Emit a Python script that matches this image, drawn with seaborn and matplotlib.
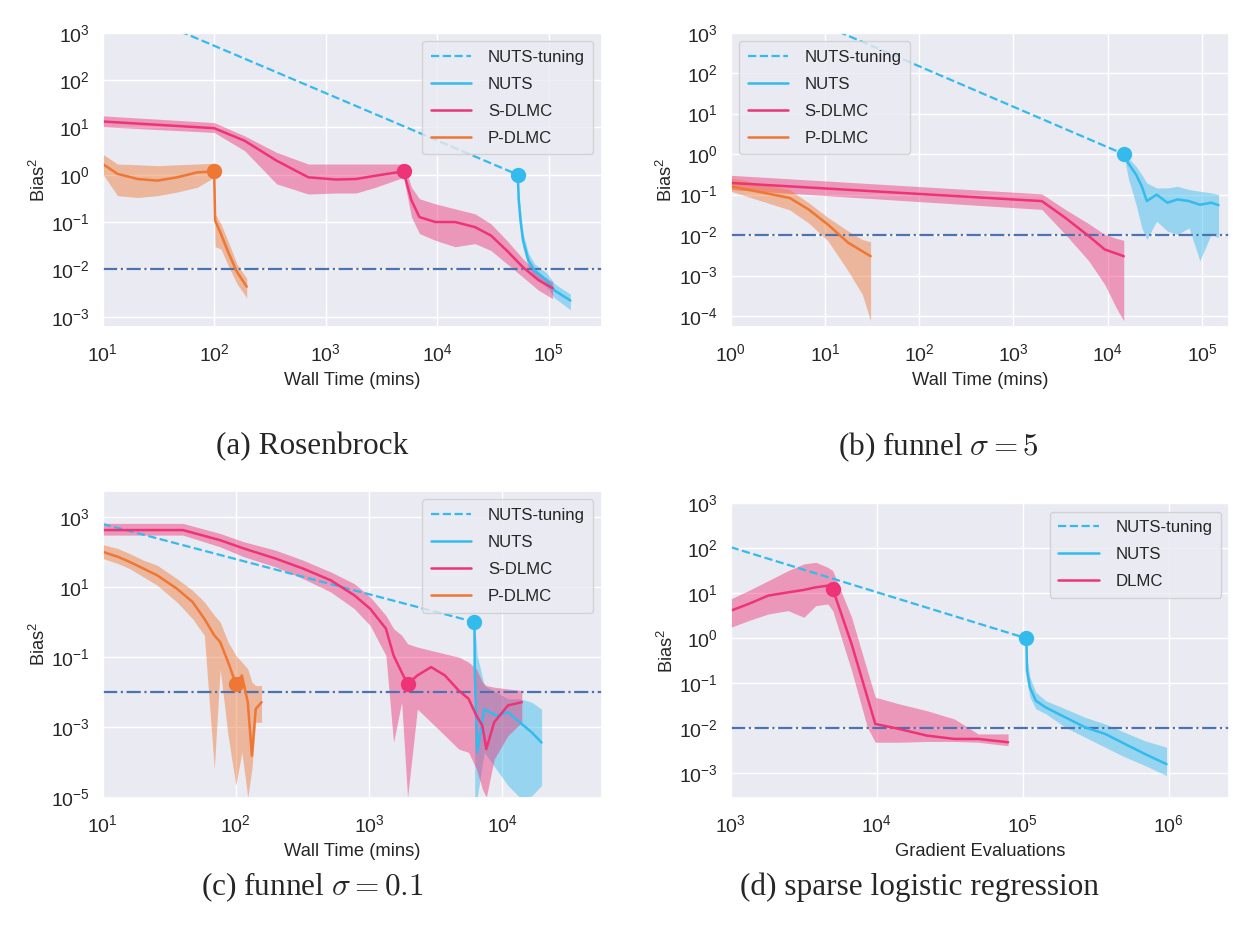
import numpy as np
import pandas as pd
import matplotlib
matplotlib.use("Agg")
import matplotlib.pyplot as plt
import seaborn as sns
from matplotlib.ticker import LogLocator, NullLocator, FixedLocator

# ---------------- colours ----------------
C_NUTS = "#33bbee"
C_SD = "#ee3377"
C_PD = "#ee7733"
C_THR = "#4c72b0"

# ================= (a) Rosenbrock =================
a_tune_x = [10, 5.3e4]
a_tune_y = [5300, 1.0]

a_nuts_x = [5.3e4, 5.4e4, 5.6e4, 5.9e4, 6.6e4, 7.5e4, 9.6e4, 1.13e5, 1.57e5]
a_nuts_m = [1.0, 0.30, 0.11, 0.041, 0.0155, 0.0095, 0.0059, 0.0036, 0.0022]
a_nuts_hi = [1.0, 0.50, 0.18, 0.060, 0.022, 0.013, 0.0085, 0.005, 0.003]
a_nuts_lo = [1.0, 0.18, 0.07, 0.028, 0.011, 0.0068, 0.0042, 0.0025, 0.0014]

a_sd_x = [10, 100, 188, 363, 700, 1240, 1870, 2800, 5000, 5900, 6950, 9660,
          14500, 21900, 30400, 42200, 58700, 81400, 1.09e5]
a_sd_m = [13.3, 9.6, 5.2, 1.98, 0.88, 0.79, 0.81, 0.95, 1.18, 0.284, 0.127, 0.10,
          0.10, 0.078, 0.052, 0.025, 0.0112, 0.0059, 0.0040]
a_sd_hi = [17.5, 12.6, 6.6, 2.96, 1.68, 1.68, 1.68, 1.68, 1.68, 0.54, 0.31, 0.242,
           0.19, 0.149, 0.092, 0.041, 0.0169, 0.0082, 0.0054]
a_sd_lo = [10.3, 7.8, 3.2, 0.64, 0.39, 0.41, 0.41, 0.54, 0.88, 0.127, 0.057, 0.041,
           0.030, 0.035, 0.025, 0.0132, 0.0069, 0.0036, 0.0024]

a_pd_x = [10, 13.6, 20.6, 30.9, 46.6, 70.5, 100, 102, 115, 136, 160, 196]
a_pd_m = [1.68, 1.04, 0.81, 0.75, 0.88, 1.12, 1.17, 0.108, 0.056, 0.021, 0.0089, 0.0043]
a_pd_hi = [2.73, 1.68, 1.62, 1.55, 1.62, 1.68, 1.74, 0.149, 0.091, 0.035, 0.013, 0.0064]
a_pd_lo = [1.04, 0.36, 0.33, 0.36, 0.43, 0.54, 0.88, 0.030, 0.027, 0.011, 0.005, 0.0025]

a_dots = [(100, 1.17, C_PD), (5000, 1.18, C_SD), (5.3e4, 1.0, C_NUTS)]

# ================= (b) funnel sigma = 5 =================
b_tune_x = [1, 1.48e4]
b_tune_y = [1.48e4, 1.0]

b_nuts_x = [1.48e4, 1.65e4, 2.0e4, 2.3e4, 2.6e4, 3.3e4, 4.3e4, 5.5e4, 7.3e4, 9.5e4, 1.25e5, 1.5e5]
b_nuts_m = [1.0, 0.60, 0.31, 0.16, 0.069, 0.10, 0.063, 0.076, 0.069, 0.056, 0.063, 0.055]
b_nuts_hi = [1.0, 0.80, 0.50, 0.31, 0.194, 0.146, 0.146, 0.16, 0.133, 0.121, 0.11, 0.10]
b_nuts_lo = [1.0, 0.26, 0.056, 0.015, 0.0078, 0.022, 0.0125, 0.0104, 0.015, 0.0023, 0.0104, 0.0086]

b_sd_x = [1, 2000, 3550, 6300, 9300, 12300, 14800]
b_sd_m = [0.194, 0.069, 0.0267, 0.0094, 0.0044, 0.0035, 0.0030]
b_sd_hi = [0.30, 0.104, 0.043, 0.019, 0.0104, 0.0083, 0.0074]
b_sd_lo = [0.133, 0.043, 0.0104, 0.0023, 0.0006, 1.6e-4, 7.6e-5]

b_pd_x = [1, 4.2, 6.7, 10.8, 17.6, 24.8, 30.5]
b_pd_m = [0.16, 0.083, 0.043, 0.018, 0.0065, 0.0040, 0.0030]
b_pd_hi = [0.26, 0.133, 0.063, 0.027, 0.0126, 0.0078, 0.0068]
b_pd_lo = [0.121, 0.042, 0.020, 0.0071, 0.0013, 3.5e-4, 7.6e-5]

b_dots = [(1.48e4, 1.0, C_NUTS)]

# ================= (c) funnel sigma = 0.1 =================
c_tune_x = [10, 6200]
c_tune_y = [620, 1.0]

c_nuts_x = [6200, 6230, 6500, 7350, 9020, 11070, 13580, 16670, 19780]
c_nuts_m = [1.04, 0.046, 1.93e-4, 0.0033, 0.00215, 0.0027, 0.00139, 7.2e-4, 3.7e-4]
c_nuts_hi = [1.04, 0.80, 0.112, 0.0155, 0.010, 0.0065, 0.0065, 0.0052, 0.0033]
c_nuts_lo = [1.04, 1.1e-5, 1e-5, 1.93e-4, 6.5e-5, 2.2e-5, 1e-5, 1.1e-5, 2.2e-5]

c_sd_x = [10, 40, 76, 115, 198, 319, 515, 775, 1020, 1340, 1530, 1760, 1950, 2310,
          2930, 3720, 4720, 5600, 6410, 7110, 7610, 8720, 11070, 14060]
c_sd_m = [416, 416, 215, 124, 64.5, 33.4, 15.5, 5.8, 2.4, 0.65, 0.112, 0.037, 0.0173,
          0.030, 0.052, 0.030, 0.0112, 0.0065, 0.00215, 0.00112, 0.00024, 0.00139,
          0.0042, 0.0052]
c_sd_hi = [646, 646, 334, 193, 112, 57.8, 26.8, 12.4, 5.2, 1.55, 0.65, 0.42, 0.24,
           0.193, 0.155, 0.124, 0.10, 0.072, 0.046, 0.0193, 0.0155, 0.0139, 0.0124, 0.0112]
c_sd_lo = [299, 299, 139, 72, 37.3, 17.3, 7.2, 2.4, 0.80, 0.112, 3.7e-4, 0.0052, 1e-5,
           0.0033, 0.00139, 5.8e-4, 2.4e-4, 1.93e-4, 6.5e-5, 1.74e-5, 1e-5, 1.24e-4,
           5.8e-4, 0.00139]

c_pd_x = [10, 13, 15.9, 20.2, 25.6, 36, 47.3, 58, 68.9, 76.3, 87.5, 100, 111, 123,
          132, 141, 156]
c_pd_m = [100, 72, 51.8, 33.4, 21.5, 8.96, 3.73, 1.24, 0.416, 0.268, 0.072, 0.0173,
          0.030, 0.0052, 1.55e-4, 0.0033, 0.0052]
c_pd_hi = [162, 124, 89.6, 57.8, 41.6, 17.3, 8.0, 3.73, 1.55, 1.0, 0.268, 0.112,
           0.072, 0.046, 0.0193, 0.0155, 0.0155]
c_pd_lo = [64.5, 46.4, 33.4, 19.3, 11.2, 3.73, 1.24, 0.416, 6.5e-5, 0.046, 5.8e-4,
           2.2e-5, 1.93e-4, 1e-5, 6.5e-5, 1.39e-3, 1.39e-3]

c_dots = [(100, 0.0173, C_PD), (1950, 0.0173, C_SD), (6200, 1.0, C_NUTS)]

# ================= (d) sparse logistic regression =================
d_tune_x = [1000, 1.06e5]
d_tune_y = [106, 1.0]

d_nuts_x = [1.06e5, 1.07e5, 1.12e5, 1.23e5, 1.44e5, 1.96e5, 2.68e5, 3.67e5, 5.01e5, 6.85e5, 9.66e5]
d_nuts_m = [1.0, 0.191, 0.081, 0.041, 0.029, 0.0175, 0.0105, 0.0075, 0.0045, 0.0027, 0.0016]
d_nuts_hi = [1.0, 0.38, 0.136, 0.063, 0.041, 0.027, 0.0175, 0.0125, 0.0081, 0.0053, 0.0038]
d_nuts_lo = [1.0, 0.115, 0.049, 0.027, 0.021, 0.0105, 0.0063, 0.0038, 0.0023, 0.0015, 8.9e-4]

d_dl_x = [1000, 1325, 1810, 2470, 3170, 3830, 4620, 5000, 6730, 8630, 9780, 14200,
          22000, 34100, 49600, 79400]
d_dl_m = [4.1, 5.8, 8.9, 10.5, 11.9, 13.6, 14.8, 12.5, 0.75, 0.049, 0.0125, 0.0097,
          0.0069, 0.0058, 0.0058, 0.0049]
d_dl_hi = [7.5, 11.5, 19.1, 31.9, 44.9, 48.9, 37.8, 31.9, 2.93, 0.191, 0.049, 0.035,
           0.0247, 0.0161, 0.0075, 0.0075]
d_dl_lo = [1.75, 2.47, 3.47, 4.12, 2.93, 5.3, 5.8, 4.1, 0.191, 0.0105, 0.0049, 0.0049,
           0.0051, 0.0051, 0.0049, 0.0041]

d_dots = [(5000, 12.5, C_SD), (1.06e5, 1.0, C_NUTS)]

# ---------------- style ----------------
sns.set_theme(style="darkgrid", font_scale=1.1)
plt.rcParams["font.family"] = ["Liberation Sans", "DejaVu Sans"]
plt.rcParams["xtick.labelsize"] = 14
plt.rcParams["ytick.labelsize"] = 14
plt.rcParams["xtick.major.pad"] = 6
plt.rcParams["ytick.major.pad"] = 3

fig = plt.figure(figsize=(12.52, 9.36), dpi=100)
W, H = 1252.0, 936.0


def make_ax(l, r, t, b):
    return fig.add_axes([l / W, 1 - b / H, (r - l) / W, (b - t) / H])


def band(ax, x, m, lo, hi, color, label):
    ax.fill_between(x, lo, hi, color=color, alpha=0.45, lw=0)
    df = pd.DataFrame({"x": x, "y": m})
    sns.lineplot(data=df, x="x", y="y", ax=ax, color=color, lw=1.8, label=label,
                 estimator=None, sort=False)


def finish(ax, xlim, ylim, xlabel, yticks, dots, loc):
    for (dx, dy, dc) in dots:
        ax.plot([dx], [dy], "o", color=dc, ms=10, zorder=5)
    ax.axhline(1e-2, color=C_THR, ls="-.", lw=1.6, zorder=1.5)
    ax.set_xscale("log")
    ax.set_yscale("log")
    ax.set_xlim(*xlim)
    ax.set_ylim(*ylim)
    ax.xaxis.set_major_locator(LogLocator(base=10, numticks=20))
    ax.yaxis.set_major_locator(FixedLocator(yticks))
    ax.xaxis.set_minor_locator(NullLocator())
    ax.yaxis.set_minor_locator(NullLocator())
    ax.set_xlabel(xlabel, labelpad=5)
    ax.set_ylabel(r"Bias$^{\mathdefault{2}}$", labelpad=2)
    h, l = ax.get_legend_handles_labels()
    ax.legend(h, l, loc=loc, handlelength=2.4, handletextpad=1.0, labelspacing=0.72,
              borderpad=0.5)


ytk = [1e-4, 1e-3, 1e-2, 1e-1, 1, 10, 100, 1e3]

# (a)
ax = make_ax(102.7, 601.7, 32.7, 326.5)
sns.lineplot(x=a_tune_x, y=a_tune_y, ax=ax, color=C_NUTS, ls="--", lw=1.6, label="NUTS-tuning")
band(ax, a_nuts_x, a_nuts_m, a_nuts_lo, a_nuts_hi, C_NUTS, "NUTS")
band(ax, a_sd_x, a_sd_m, a_sd_lo, a_sd_hi, C_SD, "S-DLMC")
band(ax, a_pd_x, a_pd_m, a_pd_lo, a_pd_hi, C_PD, "P-DLMC")
finish(ax, (10, 3.0e5), (6.2e-4, 1e3), "Wall Time (mins)", ytk, a_dots, "upper right")

# (b)
ax = make_ax(730.7, 1229.3, 32.7, 326.5)
sns.lineplot(x=b_tune_x, y=b_tune_y, ax=ax, color=C_NUTS, ls="--", lw=1.6, label="NUTS-tuning")
band(ax, b_nuts_x, b_nuts_m, b_nuts_lo, b_nuts_hi, C_NUTS, "NUTS")
band(ax, b_sd_x, b_sd_m, b_sd_lo, b_sd_hi, C_SD, "S-DLMC")
band(ax, b_pd_x, b_pd_m, b_pd_lo, b_pd_hi, C_PD, "P-DLMC")
finish(ax, (1, 1.95e5), (5.5e-5, 1e3), "Wall Time (mins)", ytk, b_dots, "upper left")

# (c)
ax = make_ax(102.7, 601.7, 491.0, 797.5)
sns.lineplot(x=c_tune_x, y=c_tune_y, ax=ax, color=C_NUTS, ls="--", lw=1.6, label="NUTS-tuning")
band(ax, c_nuts_x, c_nuts_m, c_nuts_lo, c_nuts_hi, C_NUTS, "NUTS")
band(ax, c_sd_x, c_sd_m, c_sd_lo, c_sd_hi, C_SD, "S-DLMC")
band(ax, c_pd_x, c_pd_m, c_pd_lo, c_pd_hi, C_PD, "P-DLMC")
finish(ax, (10, 5.6e4), (1e-5, 5.4e3), "Wall Time (mins)", [1e-5, 1e-3, 1e-1, 10, 1e3],
       c_dots, "upper right")

# (d)
ax = make_ax(730.7, 1229.3, 503.3, 797.5)
sns.lineplot(x=d_tune_x, y=d_tune_y, ax=ax, color=C_NUTS, ls="--", lw=1.6, label="NUTS-tuning")
band(ax, d_nuts_x, d_nuts_m, d_nuts_lo, d_nuts_hi, C_NUTS, "NUTS")
band(ax, d_dl_x, d_dl_m, d_dl_lo, d_dl_hi, C_SD, "DLMC")
finish(ax, (1e3, 2.6e6), (2.9e-4, 1e3), "Gradient Evaluations", ytk, d_dots, "upper right")

# captions
cap_kw = dict(ha="center", va="center", fontsize=22.5, family="Liberation Serif",
              math_fontfamily="cm")
fig.text(312 / W, 1 - 447 / H, "(a) Rosenbrock", **cap_kw)
fig.text(938 / W, 1 - 447 / H, r"(b) funnel $\sigma = 5$", **cap_kw)
fig.text(312 / W, 1 - 887 / H, r"(c) funnel $\sigma = 0.1$", **cap_kw)
fig.text(920 / W, 1 - 887 / H, "(d) sparse logistic regression", **cap_kw)

fig.savefig("out.png", dpi=100)
